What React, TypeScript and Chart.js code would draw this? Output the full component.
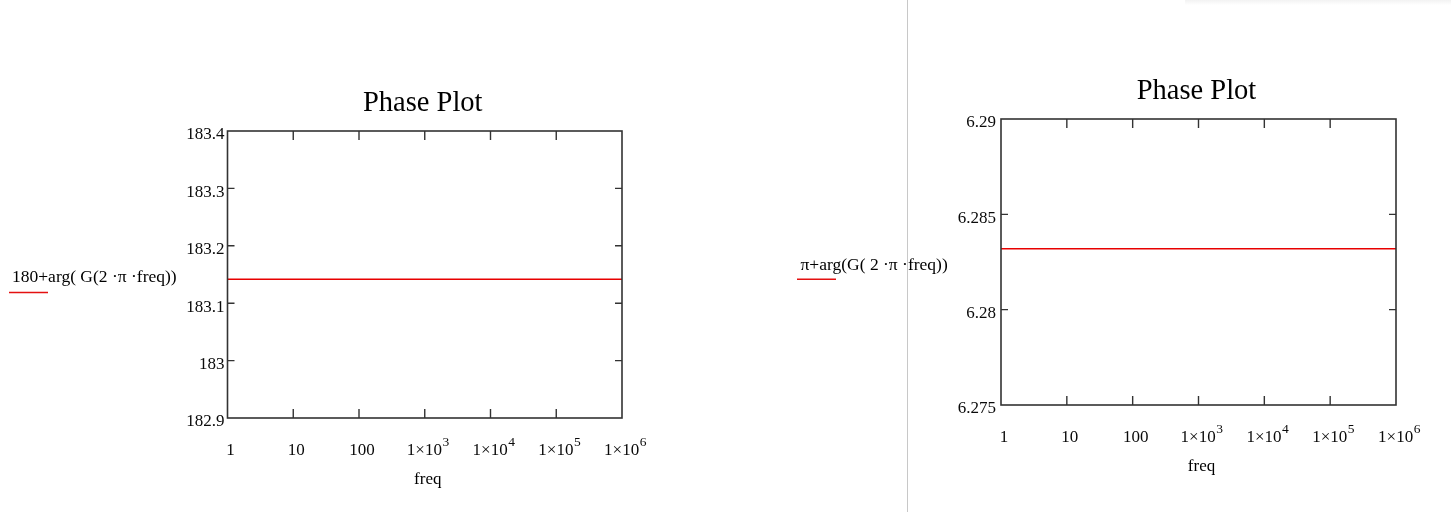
import React, { useEffect, useRef } from "react";
import { Chart, registerables } from "chart.js";

Chart.register(...registerables);

const FONT = '"Liberation Serif", "Times New Roman", serif';

// ---- data ----
const freq = [1, 10, 100, 1000, 10000, 100000, 1000000];
const phaseDeg = [183.1416, 183.1416, 183.1416, 183.1416, 183.1416, 183.1416, 183.1416];
const phaseRad = [6.2832, 6.2832, 6.2832, 6.2832, 6.2832, 6.2832, 6.2832];

const xTickValues = [1, 10, 100, 1000, 10000, 100000, 1000000];
const xTickBase = ["1", "10", "100", "1×10", "1×10", "1×10", "1×10"];
const xTickExp = ["", "", "", "3", "4", "5", "6"];

const leftYTickValues = [182.9, 183, 183.1, 183.2, 183.3, 183.4];
const leftYTickLabels = ["182.9", "183", "183.1", "183.2", "183.3", "183.4"];
const rightYTickValues = [6.275, 6.28, 6.285, 6.29];
const rightYTickLabels = ["6.275", "6.28", "6.285", "6.29"];

const plotTitle = "Phase Plot";
const xAxisLabel = "freq";
const leftYAxisLabel = "180+arg( G(2 ·π ·freq))";
const rightYAxisLabel = "π+arg(G( 2 ·π ·freq))";

type Panel = {
  left: number;
  width: number;
  padRight: number;
  padTop: number;
  xAxisHeight: number;
  yAxisWidth: number;
  tickPad: number;
  yMin: number;
  yMax: number;
  yTicks: number[];
  yLabels: string[];
  values: number[];
  yLabel: string;
  yLabelX: number;
  underlineX: number;
  underlineDy: number;
};

const panels: Panel[] = [
  {
    left: 0,
    width: 780,
    padRight: 158,
    padTop: 131,
    xAxisHeight: 94,
    yAxisWidth: 227.5,
    tickPad: 3,
    yMin: 182.9,
    yMax: 183.4,
    yTicks: leftYTickValues,
    yLabels: leftYTickLabels,
    values: phaseDeg,
    yLabel: leftYAxisLabel,
    yLabelX: 12,
    underlineX: 9,
    underlineDy: 18,
  },
  {
    left: 780,
    width: 671,
    padRight: 55,
    padTop: 119,
    xAxisHeight: 107,
    yAxisWidth: 221,
    tickPad: 5,
    yMin: 6.275,
    yMax: 6.29,
    yTicks: rightYTickValues,
    yLabels: rightYTickLabels,
    values: phaseRad,
    yLabel: rightYAxisLabel,
    yLabelX: 20.5,
    underlineX: 17,
    underlineDy: 17.3,
  },
];

function makeDecor(p: Panel) {
  return {
    id: "mathcadDecor",
    afterDraw(chart: any) {
      const ctx: CanvasRenderingContext2D = chart.ctx;
      const a = chart.chartArea;
      const xs = chart.scales.x;
      const ys = chart.scales.y;
      ctx.save();

      // inward tick marks
      ctx.strokeStyle = "#333";
      ctx.lineWidth = 1.4;
      ctx.beginPath();
      xTickValues.forEach((v, i) => {
        if (i === 0 || i === xTickValues.length - 1) return;
        const px = xs.getPixelForValue(v);
        ctx.moveTo(px, a.bottom);
        ctx.lineTo(px, a.bottom - 9);
        ctx.moveTo(px, a.top);
        ctx.lineTo(px, a.top + 9);
      });
      p.yTicks.forEach((v, i) => {
        if (i === 0 || i === p.yTicks.length - 1) return;
        const py = ys.getPixelForValue(v);
        ctx.moveTo(a.left, py);
        ctx.lineTo(a.left + 7, py);
        ctx.moveTo(a.right, py);
        ctx.lineTo(a.right - 7, py);
      });
      ctx.stroke();

      // frame
      ctx.lineWidth = 1.6;
      ctx.strokeRect(a.left, a.top, a.right - a.left, a.bottom - a.top);

      // x tick labels with superscripts
      ctx.fillStyle = "#0a0a0a";
      ctx.textBaseline = "alphabetic";
      ctx.textAlign = "left";
      xTickValues.forEach((v, i) => {
        const px = xs.getPixelForValue(v);
        ctx.font = `17px ${FONT}`;
        const wb = ctx.measureText(xTickBase[i]).width;
        ctx.font = `13.5px ${FONT}`;
        const we = xTickExp[i] ? ctx.measureText(xTickExp[i]).width : 0;
        const start = px + 3 - (wb + we) / 2;
        ctx.font = `17px ${FONT}`;
        ctx.fillText(xTickBase[i], start, a.bottom + 36.5);
        if (xTickExp[i]) {
          ctx.font = `13.5px ${FONT}`;
          ctx.fillText(xTickExp[i], start + wb + 0.5, a.bottom + 27.5);
        }
      });

      // x axis label
      ctx.font = `17px ${FONT}`;
      ctx.textAlign = "center";
      ctx.fillStyle = "#000";
      ctx.fillText(xAxisLabel, (a.left + a.right) / 2 + 3, a.bottom + 65.5);

      // title
      ctx.font = `28.5px ${FONT}`;
      ctx.fillText(plotTitle, (a.left + a.right) / 2 - 2, a.top - 20.5);

      // y axis expression label (Mathcad style, horizontal)
      const mid = (a.top + a.bottom) / 2;
      ctx.font = `17.5px ${FONT}`;
      ctx.textAlign = "left";
      ctx.textBaseline = "middle";
      ctx.fillText(p.yLabel, p.yLabelX, mid + 3);

      // trace legend underline
      ctx.strokeStyle = "#e41010";
      ctx.lineWidth = 1.5;
      ctx.beginPath();
      ctx.moveTo(p.underlineX, mid + p.underlineDy);
      ctx.lineTo(p.underlineX + 39, mid + p.underlineDy);
      ctx.stroke();

      ctx.restore();
    },
  };
}

function PhasePanel({ p }: { p: Panel }) {
  const ref = useRef<HTMLCanvasElement | null>(null);
  useEffect(() => {
    if (!ref.current) return;
    const chart = new Chart(ref.current, {
      type: "line",
      data: {
        datasets: [
          {
            data: freq.map((f, i) => ({ x: f, y: p.values[i] })),
            borderColor: "#e80000",
            borderWidth: 1.5,
            pointRadius: 0,
            fill: false,
          },
        ],
      },
      options: {
        responsive: false,
        animation: false,
        devicePixelRatio: 1,
        layout: { padding: { left: 0, right: p.padRight, top: p.padTop, bottom: 0 } },
        plugins: {
          legend: { display: false },
          title: { display: false },
          tooltip: { enabled: false },
        },
        scales: {
          x: {
            type: "logarithmic",
            min: 1,
            max: 1000000,
            grid: { display: false, drawTicks: false },
            border: { display: false },
            ticks: { display: false },
            afterFit: (s: any) => {
              s.height = p.xAxisHeight;
            },
          },
          y: {
            type: "linear",
            min: p.yMin,
            max: p.yMax,
            grid: { display: false, drawTicks: false },
            border: { display: false },
            afterBuildTicks: (s: any) => {
              s.ticks = p.yTicks.map((v) => ({ value: v }));
            },
            ticks: {
              padding: p.tickPad,
              labelOffset: 4,
              color: "#0a0a0a",
              font: { family: FONT, size: 17 },
              callback: (v: any) => {
                const idx = p.yTicks.findIndex((t) => Math.abs(t - Number(v)) < 1e-9);
                return idx >= 0 ? p.yLabels[idx] : "";
              },
            },
            afterFit: (s: any) => {
              s.width = p.yAxisWidth;
            },
          },
        },
      } as any,
      plugins: [makeDecor(p)],
    });
    return () => chart.destroy();
  }, [p]);
  return (
    <canvas
      ref={ref}
      width={p.width}
      height={512}
      style={{ position: "absolute", left: p.left, top: 0, width: p.width, height: 512 }}
    />
  );
}

export default function App() {
  return (
    <div
      style={{
        position: "fixed",
        left: 0,
        top: 0,
        width: 1451,
        height: 512,
        background: "#fff",
        overflow: "hidden",
      }}
    >
      <div
        style={{
          position: "absolute",
          left: 1185,
          top: 0,
          width: 266,
          height: 5,
          background: "linear-gradient(#f2f2f2, #ffffff)",
        }}
      />
      <div
        style={{
          position: "absolute",
          left: 907,
          top: 0,
          width: 1,
          height: 512,
          background: "#c8c8c8",
        }}
      />
      {panels.map((p, i) => (
        <PhasePanel key={i} p={p} />
      ))}
    </div>
  );
}
